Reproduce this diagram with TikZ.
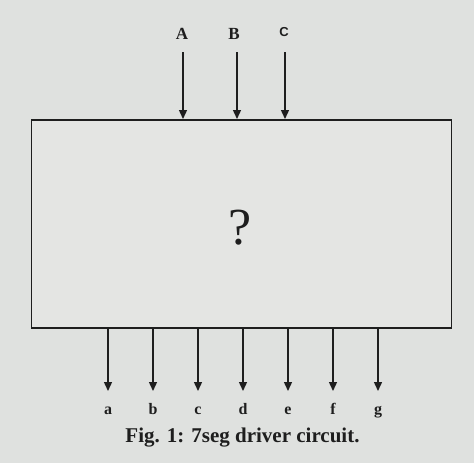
\documentclass[tikz,border=0pt]{standalone}
\usepackage{fontspec}
\setmainfont{Liberation Serif}
\setsansfont{Liberation Sans}
\usetikzlibrary{arrows.meta}
\definecolor{bg}{HTML}{DFE1DF}
\definecolor{inner}{HTML}{E4E5E3}
\definecolor{ink}{HTML}{1E1E1E}
\tikzset{
  sig/.style={draw=ink, line width=1.4pt, -{Triangle[length=9pt,width=8pt]}},
  lbl/.style={text=ink, inner sep=0pt},
}
\begin{document}
\begin{tikzpicture}[x=1pt,y=-1pt]
\fill[bg] (0,0) rectangle (474,463);
\useasboundingbox (0,0) rectangle (474,463);
\node[draw=ink, fill=inner, line width=1.2pt, minimum width=420pt, minimum height=208pt, inner sep=0pt] (box) at (241.5,224) {};
\node[text=ink, font=\fontsize{52}{54}\selectfont, inner sep=0pt] (q) at (240,228) {?};
% inputs
\node[lbl, font=\bfseries\fontsize{17}{19}\selectfont] (lA) at (182,34) {A};
\node[lbl, font=\bfseries\fontsize{17}{19}\selectfont] (lB) at (234,34) {B};
\node[lbl, font=\sffamily\bfseries\fontsize{13}{15}\selectfont] (lC) at (284,32) {C};
\foreach \n/\x in {A/183, B/237, C/285} {
  \coordinate (s\n) at (\x,52);
  \coordinate (e\n) at (\x,119);
  \draw[sig] (s\n) -- (e\n);
}
% outputs
\foreach \n/\x in {a/108, b/153, c/198, d/243, e/288, f/333, g/378} {
  \coordinate (o\n) at (\x,328);
  \coordinate (t\n) at (\x,391);
  \draw[sig] (o\n) -- (t\n);
  \node[lbl, font=\bfseries\fontsize{16}{18}\selectfont, anchor=base] (n\n) at (\x,414) {\n};
}
\node[text=ink, font=\bfseries\fontsize{21}{23}\selectfont, inner sep=0pt] (cap) at (242.5,438) {Fig. 1: 7seg driver circuit.};
\end{tikzpicture}
\end{document}
